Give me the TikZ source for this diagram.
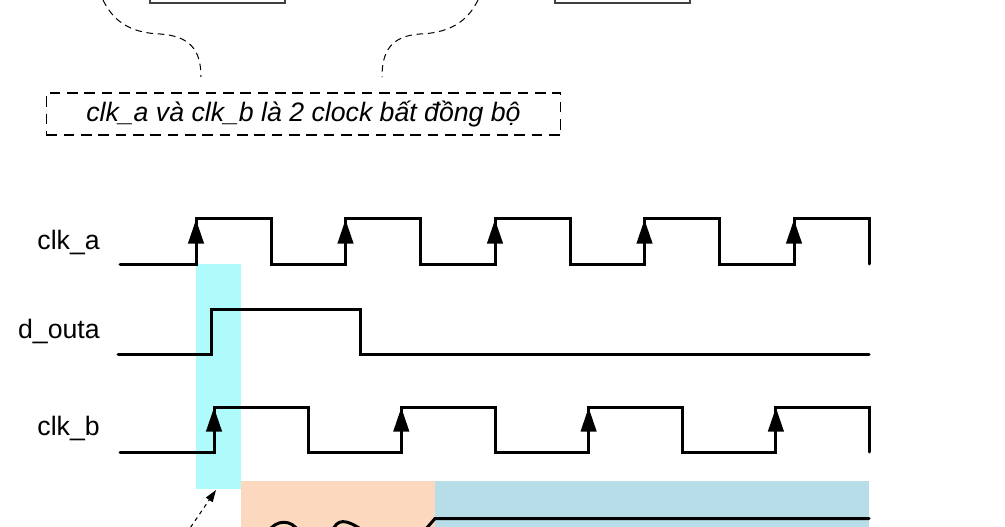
\documentclass[tikz,border=0pt]{standalone}
\usepackage{fontspec}
\setmainfont{Liberation Sans}
\usepackage{tikz}
\usetikzlibrary{arrows.meta}
\pgfdeclarelayer{bg}
\pgfsetlayers{bg,main}
\definecolor{metacyan}{RGB}{175,250,251}
\definecolor{metapeach}{RGB}{251,216,190}
\definecolor{stableblue}{RGB}{183,221,232}
\tikzset{
  wave/.style={line width=2.25pt, line cap=round, line join=miter},
  edgetip/.style={line width=2.25pt, -{Triangle[length=18pt, width=11.5pt]}},
  lbl/.style={anchor=base east, inner sep=0pt, font=\fontsize{20}{24}\selectfont},
  notebox/.style={draw, dash pattern=on 8pt off 5pt, line width=0.9pt,
    minimum width=386pt, minimum height=31.5pt, inner sep=0pt,
    font=\fontsize{20}{24}\selectfont\itshape},
  link/.style={dash pattern=on 5pt off 3.5pt, line width=0.75pt},
}
\begin{document}
\begin{tikzpicture}[x=0.75pt, y=-0.75pt]
  \useasboundingbox (0,0) rectangle (1005,527);
  \clip (0,0) rectangle (1005,527);
  % blocks above, cut off
  \draw[line width=1.1pt, black!75] (150,-30) rectangle (285,3);
  \draw[line width=1.1pt, black!75] (555,-30) rectangle (690,3);

  \node[notebox] (note) at (303.5,114) {clk\_a và clk\_b là 2 clock bất đồng bộ};
  \coordinate (ca) at (201,77);
  \coordinate (cb) at (382,77);
  \draw[link] (103,0) .. controls (115,25) and (135,33) .. (160,34)
    .. controls (190,36) and (201,50) .. (ca);
  \draw[link] (478,0) .. controls (466,25) and (445,33) .. (420,34)
    .. controls (392,36) and (382,50) .. (cb);

  \begin{pgfonlayer}{bg}
    \fill[metacyan] (196,264) rectangle (241,489);
    \fill[metapeach] (241,481) rectangle (435,530);
    \fill[stableblue] (435,481) rectangle (869,530);
  \end{pgfonlayer}

  \node[lbl] (lclka) at (100,249) {clk\_a};
  \node[lbl] (ldouta) at (100,338) {d\_outa};
  \node[lbl] (lclkb) at (100,435) {clk\_b};

  % clk_a
  \draw[wave] (120,264) foreach \k in {0,...,4} {
    -- ({196+149.5*\k},264) |- ({271+149.5*\k},219) -- ({271+149.5*\k},264) };
  \foreach \k in {0,...,4}
    \draw[edgetip] ({196+149.5*\k},264) -- ({196+149.5*\k},219.5);

  % d_outa
  \draw[wave] (118,354) -- (211,354) |- (360,309) -- (360,354) -- (869,354);

  % clk_b
  \draw[wave] (120,452) foreach \k in {0,...,3} {
    -- ({214+187.3*\k},452) |- ({308+187.3*\k},407) -- ({308+187.3*\k},452) };
  \foreach \k in {0,...,3}
    \draw[edgetip] ({214+187.3*\k},452) -- ({214+187.3*\k},407.5);

  % output of the sync stage
  \draw[wave] (268,532) .. controls (276,519) and (292,519) .. (299,532);
  \draw[wave] (332,532) .. controls (337,518) and (346,519) .. (362,530);
  \draw[wave] (425,530) -- (435,518.5) -- (869,518.5);

  \coordinate (tail) at (186,534);
  \draw[dashed, line width=0.8pt, -{Triangle[length=9pt, width=6pt]}] (tail) -- (216,490);
\end{tikzpicture}
\end{document}
